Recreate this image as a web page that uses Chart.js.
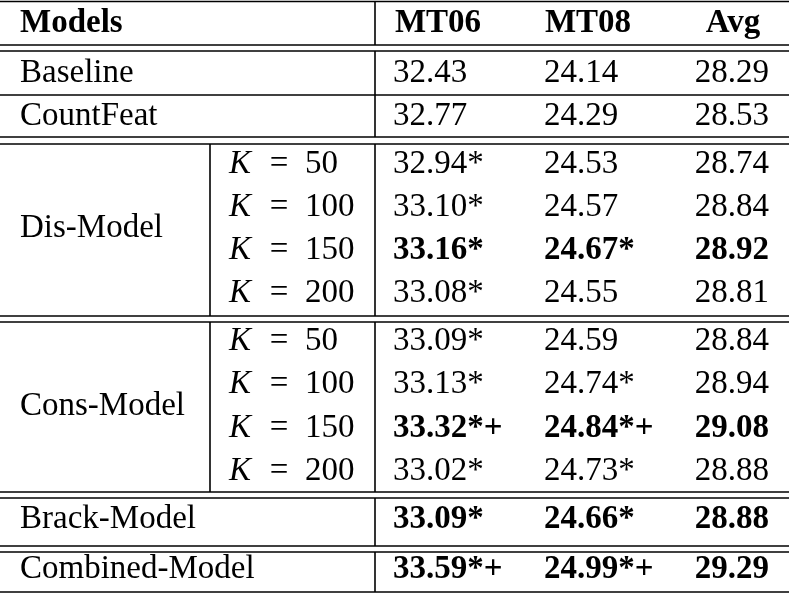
<!DOCTYPE html>
<html><head><meta charset="utf-8">
<script src="https://cdn.jsdelivr.net/npm/chart.js@4.4.0/dist/chart.umd.min.js"></script>
<style>html,body{margin:0;padding:0;background:#fff}#w{width:794px;height:597px}</style>
</head><body><div id="w"><canvas id="c"></canvas></div>
<script>
// ---- data ----
const headers = ['Models', 'MT06', 'MT08', 'Avg'];
const rowLabels = ['Baseline','CountFeat','Dis-Model','Dis-Model','Dis-Model','Dis-Model','Cons-Model','Cons-Model','Cons-Model','Cons-Model','Brack-Model','Combined-Model'];
const kLabels = [null,null,50,100,150,200,50,100,150,200,null,null];
const mt06 = ['32.43','32.77','32.94*','33.10*','33.16*','33.08*','33.09*','33.13*','33.32*+','33.02*','33.09*','33.59*+'];
const mt08 = ['24.14','24.29','24.53','24.57','24.67*','24.55','24.59','24.74*','24.84*+','24.73*','24.66*','24.99*+'];
const avg  = ['28.29','28.53','28.74','28.84','28.92','28.81','28.84','28.94','29.08','28.88','28.88','29.29'];
const boldRows = [4,8,10,11];

// ---- layout ----
const rowY = [73,116,164,207,250,293,341,384,428,471,519,569];
const headerY = 23;
const serif = '"Liberation Serif", "DejaVu Serif", serif';

const tablePlugin = {
  id:'table',
  afterDraw(chart){
    const ctx = chart.ctx, X = v=>chart.scales.x.getPixelForValue(v), Y = v=>chart.scales.y.getPixelForValue(v);
    ctx.save();
    ctx.strokeStyle='#000'; ctx.lineWidth=1.6;
    const h=(y)=>{ctx.beginPath();ctx.moveTo(X(0),Y(y));ctx.lineTo(X(789),Y(y));ctx.stroke();};
    const v=(x,y0,y1)=>{ctx.beginPath();ctx.moveTo(X(x),Y(y0));ctx.lineTo(X(x),Y(y1));ctx.stroke();};
    [1.5,45,51,95,137,144,316,322,492,498,546,552,592].forEach(h);
    v(375,1.5,45); v(375,51,137); v(375,144,316); v(375,322,492); v(375,498,546); v(375,552,592);
    v(210,144,316); v(210,322,492);
    ctx.fillStyle='#000'; ctx.textBaseline='middle';
    const txt=(s,x,y,align,bold,italic)=>{ctx.font=(italic?'italic ':'')+(bold?'bold ':'')+'33px '+serif;ctx.textAlign=align;ctx.fillText(s,X(x),Y(y));};
    txt(headers[0],20,headerY,'left',true);
    txt(headers[1],438,headerY,'center',true);
    txt(headers[2],588,headerY,'center',true);
    txt(headers[3],733,headerY,'center',true);
    rowLabels.forEach((lab,i)=>{
      const b = boldRows.includes(i);
      if(kLabels[i]===null) txt(lab,20,rowY[i],'left');
      else {
        if(i===2||i===6){ txt(lab,20,(rowY[i+1]+rowY[i+2])/2,'left'); }
        txt('K',229,rowY[i],'left',false,true);
        txt('=',279,rowY[i],'center');
        txt(String(kLabels[i]),305,rowY[i],'left');
      }
      txt(mt06[i],393,rowY[i],'left',b);
      txt(mt08[i],544,rowY[i],'left',b);
      txt(avg[i],769,rowY[i],'right',b);
    });
    ctx.restore();
  }
};

new Chart(document.getElementById('c'),{
  type:'scatter',
  data:{datasets:[{data:[],pointRadius:0}]},
  options:{responsive:true,maintainAspectRatio:false,animation:false,
    layout:{padding:0},
    plugins:{legend:{display:false},tooltip:{enabled:false}},
    scales:{x:{type:'linear',min:0,max:794,display:false},y:{type:'linear',min:0,max:597,reverse:true,display:false}}},
  plugins:[tablePlugin]
});
</script></body></html>
